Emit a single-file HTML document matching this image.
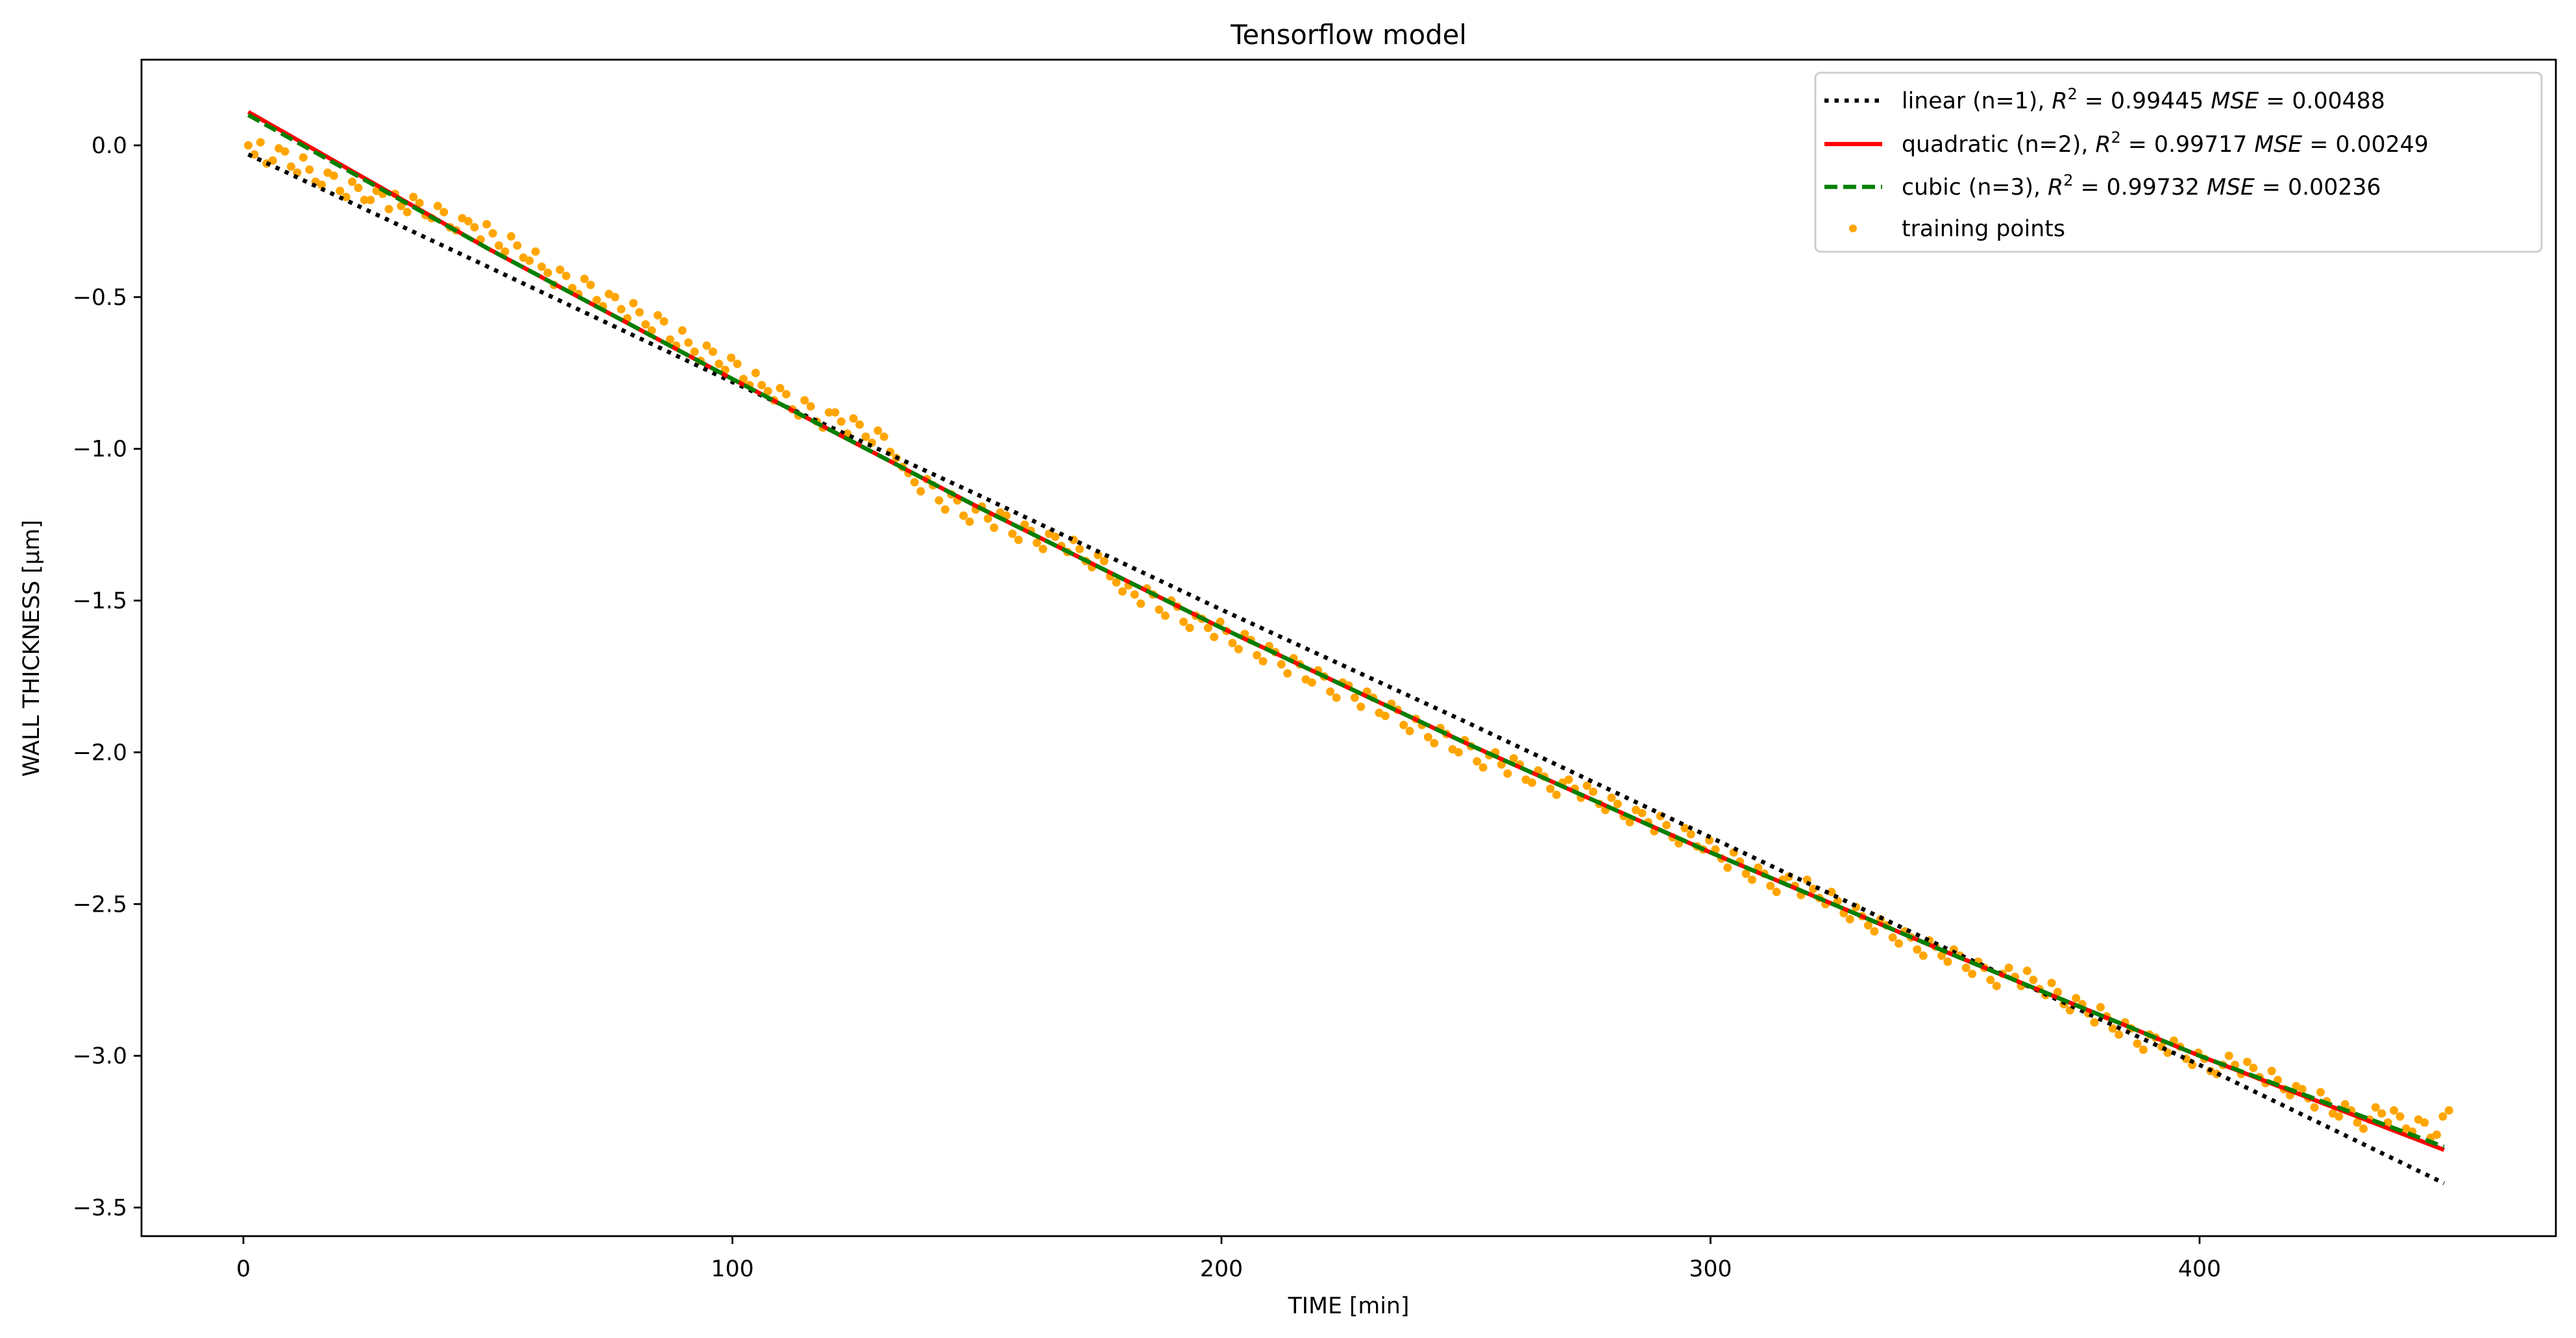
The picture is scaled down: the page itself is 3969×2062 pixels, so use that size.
<!DOCTYPE html>
<html><head><meta charset="utf-8"><style>
html,body{margin:0;padding:0;background:#fff;}
svg{display:block;font-family:"DejaVu Sans","Liberation Sans",sans-serif;}
</style></head><body>
<svg id="chart" width="3969" height="2062" viewBox="0 0 3969 2062" xmlns="http://www.w3.org/2000/svg">
<rect x="0" y="0" width="3969" height="2062" fill="#fff"/>
<text x="2078" y="68" font-size="41.7" text-anchor="middle">Tensorflow model</text>
<g id="plot"></g>
<g id="axes"></g>
<text x="2078" y="2024" font-size="34.7" text-anchor="middle">TIME [min]</text>
<text x="0" y="0" font-size="34.7" text-anchor="middle" transform="translate(60,999) rotate(-90)">WALL THICKNESS [μm]</text>
<g>
<rect x="2797" y="112" width="1119" height="276" rx="8" fill="#fff" fill-opacity="0.8" stroke="#cccccc" stroke-width="2.8"/>
<g>
<line x1="2811" y1="155" x2="2900" y2="155" stroke="#000" stroke-width="6.5" stroke-dasharray="6.5 9"/>
<text x="2930" y="167" font-size="34.7">linear (n=1), <tspan font-style="italic">R</tspan><tspan font-size="24" dy="-14">2</tspan><tspan dy="14"> = 0.99445 </tspan><tspan font-style="italic">MSE</tspan> = 0.00488</text>
</g>
<g>
<line x1="2811" y1="222" x2="2900" y2="222" stroke="#ff0000" stroke-width="6.5"/>
<text x="2930" y="234" font-size="34.7">quadratic (n=2), <tspan font-style="italic">R</tspan><tspan font-size="24" dy="-14">2</tspan><tspan dy="14"> = 0.99717  </tspan><tspan font-style="italic">MSE</tspan> = 0.00249</text>
</g>
<g>
<line x1="2811" y1="288" x2="2900" y2="288" stroke="#008000" stroke-width="6.5" stroke-dasharray="20 9"/>
<text x="2930" y="300" font-size="34.7">cubic (n=3), <tspan font-style="italic">R</tspan><tspan font-size="24" dy="-14">2</tspan><tspan dy="14"> = 0.99732  </tspan><tspan font-style="italic">MSE</tspan> = 0.00236</text>
</g>
<g>
<circle cx="2855" cy="352" r="6" fill="#ffa500"/>
<text x="2930" y="364" font-size="34.7">training points</text>
</g>
</g>
</svg>
<script>
// ---- data ----
const xTicks = [0, 100, 200, 300, 400];
const yTicks = [0.0, -0.5, -1.0, -1.5, -2.0, -2.5, -3.0, -3.5];
const fitX = [1, 50, 100, 150, 200, 250, 300, 350, 400, 450];
const linearY = [-0.03, -0.40, -0.78, -1.15, -1.53, -1.90, -2.28, -2.66, -3.03, -3.42];
const quadraticY = [0.11, -0.34, -0.77, -1.19, -1.59, -1.97, -2.33, -2.67, -3.00, -3.31];
const cubicY = [0.10, -0.34, -0.77, -1.19, -1.59, -1.97, -2.33, -2.67, -3.00, -3.30];
const pointStartX = 1;
const pointStepX = 2.5;
const pointY = [
0.00,0.01,-0.05,-0.02,-0.09,-0.08,
-0.13,-0.10,-0.17,-0.14,-0.18,-0.16,
-0.16,-0.22,-0.19,-0.24,-0.22,-0.28,
-0.25,-0.31,-0.29,-0.35,-0.33,-0.38,
-0.40,-0.46,-0.43,-0.49,-0.46,-0.53,
-0.50,-0.57,-0.55,-0.61,-0.58,-0.66,
-0.65,-0.71,-0.68,-0.74,-0.72,-0.79,
-0.79,-0.84,-0.82,-0.89,-0.86,-0.93,
-0.88,-0.95,-0.92,-0.98,-0.96,-1.03,
-1.08,-1.14,-1.12,-1.20,-1.17,-1.24,
-1.19,-1.26,-1.22,-1.30,-1.27,-1.33,
-1.29,-1.34,-1.33,-1.39,-1.37,-1.44,
-1.45,-1.51,-1.48,-1.55,-1.52,-1.59,
-1.56,-1.62,-1.60,-1.66,-1.63,-1.70,
-1.67,-1.74,-1.71,-1.77,-1.75,-1.82,
-1.78,-1.85,-1.82,-1.88,-1.86,-1.93,
-1.91,-1.97,-1.94,-2.00,-1.98,-2.05,
-2.00,-2.07,-2.04,-2.10,-2.08,-2.14,
-2.09,-2.15,-2.13,-2.19,-2.17,-2.23,
-2.20,-2.26,-2.24,-2.30,-2.27,-2.32,
-2.32,-2.38,-2.36,-2.42,-2.40,-2.46,
-2.41,-2.47,-2.45,-2.50,-2.49,-2.55,
-2.54,-2.59,-2.57,-2.63,-2.61,-2.67,
-2.64,-2.69,-2.67,-2.73,-2.71,-2.77,
-2.71,-2.77,-2.75,-2.80,-2.79,-2.85,
-2.83,-2.89,-2.87,-2.93,-2.91,-2.98,
-2.94,-2.99,-2.97,-3.03,-3.01,-3.06,
-3.00,-3.06,-3.04,-3.09,-3.08,-3.13,
-3.11,-3.17,-3.15,-3.20,-3.18,-3.24,
-3.17,-3.22,-3.20,-3.25,-3.22,-3.26,
-3.18
];
// second batch of points, offset half a step in time
const pointY2 = [
-0.03,-0.06,-0.01,-0.07,-0.04,-0.12,
-0.09,-0.15,-0.12,-0.18,-0.15,-0.21,
-0.20,-0.17,-0.23,-0.20,-0.27,-0.24,
-0.27,-0.26,-0.33,-0.30,-0.37,-0.35,
-0.42,-0.41,-0.47,-0.44,-0.51,-0.49,
-0.54,-0.52,-0.59,-0.56,-0.64,-0.61,
-0.68,-0.66,-0.72,-0.70,-0.77,-0.75,
-0.81,-0.80,-0.87,-0.84,-0.91,-0.88,
-0.91,-0.90,-0.96,-0.94,-1.01,-1.06,
-1.11,-1.10,-1.17,-1.15,-1.22,-1.20,
-1.23,-1.21,-1.28,-1.25,-1.31,-1.28,
-1.32,-1.30,-1.37,-1.35,-1.42,-1.47,
-1.48,-1.46,-1.53,-1.50,-1.57,-1.55,
-1.59,-1.57,-1.64,-1.61,-1.68,-1.65,
-1.71,-1.69,-1.76,-1.73,-1.80,-1.77,
-1.82,-1.80,-1.87,-1.84,-1.91,-1.89,
-1.95,-1.92,-1.99,-1.96,-2.03,-2.01,
-2.04,-2.02,-2.09,-2.06,-2.12,-2.10,
-2.12,-2.11,-2.17,-2.15,-2.21,-2.19,
-2.23,-2.21,-2.28,-2.25,-2.31,-2.29,
-2.35,-2.33,-2.40,-2.38,-2.44,-2.42,
-2.44,-2.42,-2.48,-2.46,-2.53,-2.51,
-2.57,-2.55,-2.61,-2.59,-2.65,-2.62,
-2.67,-2.65,-2.71,-2.69,-2.75,-2.73,
-2.74,-2.72,-2.78,-2.76,-2.83,-2.81,
-2.86,-2.84,-2.91,-2.89,-2.96,-2.93,
-2.97,-2.95,-3.01,-2.99,-3.05,-3.03,
-3.03,-3.02,-3.07,-3.05,-3.11,-3.10,
-3.14,-3.12,-3.19,-3.16,-3.22,-3.21,
-3.19,-3.18,-3.24,-3.21,-3.27,-3.20
];
// ---- scales ----
const L = 218, R = 3938, T = 92, B = 1905;
function sx(v){ return 375 + v * 7.535; }
function sy(v){ return 224 - v * 467.7; }
const NS = "http://www.w3.org/2000/svg";
const plot = document.getElementById('plot');
const axes = document.getElementById('axes');
function mk(tag, attrs, parent){
  const e = document.createElementNS(NS, tag);
  for (const k in attrs) e.setAttribute(k, attrs[k]);
  parent.appendChild(e);
  return e;
}
// scatter
pointY.forEach((v, i) => {
  const c = mk('circle', {cx: sx(pointStartX + i * pointStepX), cy: sy(v), r: 6.5, fill: '#ffa500'}, plot);
  
  
});
pointY2.forEach((v, i) => {
  const c = mk('circle', {cx: sx(pointStartX + pointStepX / 2 + i * pointStepX), cy: sy(v), r: 6.5, fill: '#ffa500'}, plot);
  
  
});
function line(ys, color, dash, name){
  const pts = fitX.map((x, i) => sx(x) + ',' + sy(ys[i])).join(' ');
  const p = mk('polyline', {points: pts, fill: 'none', stroke: color, 'stroke-width': 6.5, 'stroke-linejoin': 'round'}, plot);
  if (dash) p.setAttribute('stroke-dasharray', dash);
  
  
}
line(linearY, '#000', '6.5 9', 'linear-fit-line');
line(quadraticY, '#ff0000', null, 'quadratic-fit-line');
line(cubicY, '#008000', '20 9', 'cubic-fit-line');
// frame
const fr = mk('rect', {x: L, y: T, width: R - L, height: B - T, fill: 'none', stroke: '#000', 'stroke-width': 2.8}, axes);


xTicks.forEach(v => {
  const x = sx(v);
  const t = mk('line', {x1: x, y1: B, x2: x, y2: B + 12, stroke: '#000', 'stroke-width': 2.8}, axes);
  
  
  const lb = mk('text', {x: x, y: 1967, 'font-size': 34.7, 'text-anchor': 'middle'}, axes);
  lb.textContent = String(v);
  
  
});
yTicks.forEach(v => {
  const y = sy(v);
  const t = mk('line', {x1: L - 12, y1: y, x2: L, y2: y, stroke: '#000', 'stroke-width': 2.8}, axes);
  
  
  const lb = mk('text', {x: L - 22, y: y + 12, 'font-size': 34.7, 'text-anchor': 'end'}, axes);
  lb.textContent = (v < 0 ? '\u2212' : '') + Math.abs(v).toFixed(1);
  
  
});
</script>
</body></html>
